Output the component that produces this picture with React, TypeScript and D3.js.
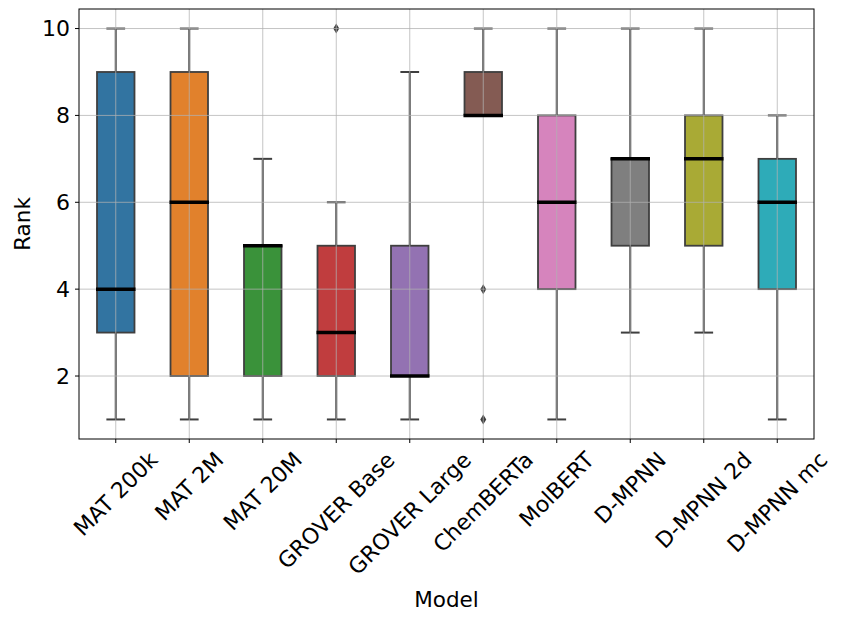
import React, { useEffect, useRef } from "react";
import * as d3 from "d3";

const models: string[] = [
  "MAT 200k",
  "MAT 2M",
  "MAT 20M",
  "GROVER Base",
  "GROVER Large",
  "ChemBERTa",
  "MolBERT",
  "D-MPNN",
  "D-MPNN 2d",
  "D-MPNN mc",
];
const whiskerLow: number[] = [1, 1, 1, 1, 1, 8, 1, 3, 3, 1];
const q1: number[] = [3, 2, 2, 2, 2, 8, 4, 5, 5, 4];
const median: number[] = [4, 6, 5, 3, 2, 8, 6, 7, 7, 6];
const q3: number[] = [9, 9, 5, 5, 5, 9, 8, 7, 8, 7];
const whiskerHigh: number[] = [10, 10, 7, 6, 9, 10, 10, 10, 10, 8];
const outliers: number[][] = [[], [], [], [10], [], [4, 1], [], [], [], []];
const yTicks: number[] = [2, 4, 6, 8, 10];
const colors: string[] = [
  "#3274a1",
  "#e1812c",
  "#3a923a",
  "#c03d3e",
  "#9372b2",
  "#845b53",
  "#d684bd",
  "#7f7f7f",
  "#a9aa35",
  "#2eabb8",
];

const width = 846;
const height = 624;
const left = 79;
const right = 814;
const top = 9;
const bottom = 439;
const font = "'DejaVu Sans', sans-serif";
const edge = "#3f3f3f";
const boxW = 0.51;
const tickSize = 22;

const App = () => {
  const xLabelsEl = useRef<SVGGElement>(null);

  const x = d3.scaleLinear().domain([-0.5, 9.5]).range([left, right]);
  const y = d3.scaleLinear().domain([0.55, 10.45]).range([bottom, top]);
  const unit = x(1) - x(0);

  useEffect(() => {
    const g = d3.select(xLabelsEl.current);
    g.selectAll("*").remove();
    models.forEach((m, i) => {
      const t = g
        .append("text")
        .text(m)
        .attr("font-family", font)
        .attr("font-size", tickSize)
        .attr("text-anchor", "middle")
        .attr("dominant-baseline", "central")
        .attr("fill", "#000");
      const w = (t.node() as SVGTextElement).getComputedTextLength();
      const h = tickSize * 1.16;
      const cx = x(i);
      const cy = bottom + 8 + (w + h) / (2 * Math.SQRT2);
      t.attr("x", cx).attr("y", cy).attr("transform", `rotate(-45,${cx},${cy})`);
    });
  }, []);

  return (
    <svg width={width} height={height} style={{ position: "absolute", left: 0, top: 0 }}>
      <rect width={width} height={height} fill="#fff" />

      {models.map((m, i) => {
        const cx = x(i);
        const bx0 = cx - (boxW * unit) / 2;
        const bx1 = cx + (boxW * unit) / 2;
        const capHalf = (boxW * unit) / 4;
        return (
          <g key={m}>
            <line x1={cx} x2={cx} y1={y(whiskerLow[i])} y2={y(q1[i])} stroke={edge} strokeWidth={2} />
            <line x1={cx} x2={cx} y1={y(q3[i])} y2={y(whiskerHigh[i])} stroke={edge} strokeWidth={2} />
            <line x1={cx - capHalf} x2={cx + capHalf} y1={y(whiskerLow[i])} y2={y(whiskerLow[i])} stroke={edge} strokeWidth={2} />
            <line x1={cx - capHalf} x2={cx + capHalf} y1={y(whiskerHigh[i])} y2={y(whiskerHigh[i])} stroke={edge} strokeWidth={2} />
            <rect
              x={bx0}
              y={y(q3[i])}
              width={bx1 - bx0}
              height={y(q1[i]) - y(q3[i])}
              fill={colors[i]}
              stroke={edge}
              strokeWidth={1.8}
            />
            {outliers[i].map((o, j) => (
              <path
                key={j}
                d={`M${cx},${y(o) - 5}L${cx + 3},${y(o)}L${cx},${y(o) + 5}L${cx - 3},${y(o)}Z`}
                fill={edge}
              />
            ))}
          </g>
        );
      })}

      {/* grid on top of boxes */}
      <g stroke="#b0b0b0" strokeOpacity={0.75} strokeWidth={1}>
        {yTicks.map((t) => (
          <line key={t} x1={left} x2={right} y1={y(t)} y2={y(t)} />
        ))}
        {models.map((m, i) => (
          <line key={m} x1={x(i)} x2={x(i)} y1={top} y2={bottom} />
        ))}
      </g>

      {models.map((m, i) => (
        <line
          key={m}
          x1={x(i) - (boxW * unit) / 2 - 1}
          x2={x(i) + (boxW * unit) / 2 + 1}
          y1={y(median[i])}
          y2={y(median[i])}
          stroke="#000"
          strokeWidth={3.5}
        />
      ))}

      <rect x={left} y={top} width={right - left} height={bottom - top} fill="none" stroke="#000" strokeWidth={1} />

      {yTicks.map((t) => (
        <g key={t}>
          <line x1={left - 4} x2={left} y1={y(t)} y2={y(t)} stroke="#000" />
          <text
            x={left - 9}
            y={y(t)}
            textAnchor="end"
            dominantBaseline="central"
            fontFamily={font}
            fontSize={tickSize}
          >
            {t}
          </text>
        </g>
      ))}
      {models.map((m, i) => (
        <line key={m} x1={x(i)} x2={x(i)} y1={bottom} y2={bottom + 4} stroke="#000" />
      ))}
      <g ref={xLabelsEl} />

      <text x={(left + right) / 2} y={607} textAnchor="middle" fontFamily={font} fontSize={21.5}>
        Model
      </text>
      <text
        transform={`translate(30,${(top + bottom) / 2}) rotate(-90)`}
        textAnchor="middle"
        fontFamily={font}
        fontSize={21.5}
      >
        Rank
      </text>
    </svg>
  );
};

export default App;
